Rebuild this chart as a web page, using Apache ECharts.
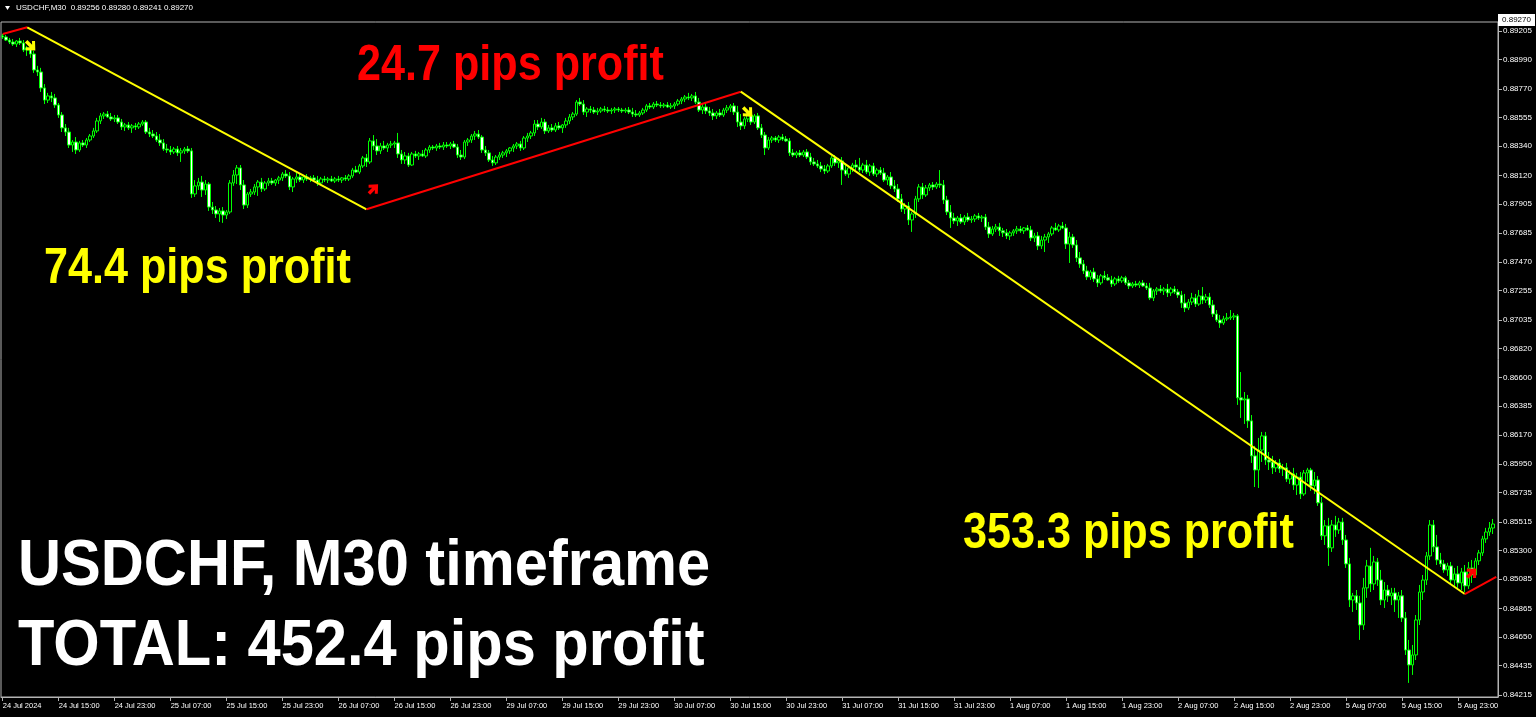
<!DOCTYPE html>
<html>
<head>
<meta charset="utf-8">
<script src="https://cdn.jsdelivr.net/npm/echarts@6/dist/echarts.min.js"></script>
<style>
html,body{margin:0;padding:0;background:#000;}
#c{width:1536px;height:717px;}
</style>
</head>
<body>
<div id="c"></div>
<script>
// ---------------- DATA (prices in points: 1 point = 0.00001) ----------------
const symbolName = 'USDCHF,M30';
const headerQuote = [0.89256, 0.89280, 0.89241, 0.89270];
const lastPrice = 0.89270;

const xTickLabels = ['24 Jul 2024','24 Jul 15:00','24 Jul 23:00','25 Jul 07:00','25 Jul 15:00','25 Jul 23:00','26 Jul 07:00','26 Jul 15:00','26 Jul 23:00','29 Jul 07:00','29 Jul 15:00','29 Jul 23:00','30 Jul 07:00','30 Jul 15:00','30 Jul 23:00','31 Jul 07:00','31 Jul 15:00','31 Jul 23:00','1 Aug 07:00','1 Aug 15:00','1 Aug 23:00','2 Aug 07:00','2 Aug 15:00','2 Aug 23:00','5 Aug 07:00','5 Aug 15:00','5 Aug 23:00'];
const barsPerTick = 16;

const yTickValues = [0.89205,0.88990,0.88770,0.88555,0.88340,0.88120,0.87905,0.87685,0.87470,0.87255,0.87035,0.86820,0.86600,0.86385,0.86170,0.85950,0.85735,0.85515,0.85300,0.85085,0.84865,0.84650,0.84435,0.84215];
const priceAxisRange = [0.84200, 0.892727];

const opens = [
89168,89160,89137,89122,89107,89130,89115,89062,89078,89032,88912,88897,88777,88686,88717,88702,
88649,88574,88477,88446,88348,88371,88311,88364,88348,88386,88416,88454,88529,88567,88581,88559,
88544,88552,88521,88484,88499,88477,88492,88484,88506,88521,88446,88431,88416,88386,88364,88318,
88311,88296,88318,88289,88304,88318,88304,87980,88041,88070,88010,88055,87882,87860,87830,87853,
87822,87845,88063,88123,88176,88048,87897,87980,87995,88033,88070,88018,88063,88078,88063,88085,
88101,88130,88116,88033,88093,88108,88085,88108,88093,88101,88085,88063,88093,88085,88093,88078,
88093,88085,88101,88093,88116,88160,88145,88191,88251,88221,88379,88341,88304,88341,88326,88348,
88356,88364,88281,88236,88266,88198,88281,88266,88281,88266,88311,88333,88326,88341,88333,88348,
88341,88356,88333,88273,88258,88371,88386,88416,88431,88408,88311,88289,88236,88214,88258,88273,
88289,88304,88326,88341,88356,88326,88401,88416,88439,88506,88484,88521,88454,88477,88461,88492,
88477,88499,88529,88559,88581,88671,88656,88596,88619,88611,88596,88604,88619,88611,88604,88611,
88619,88611,88604,88611,88596,88581,88574,88589,88611,88642,88634,88656,88649,88642,88649,88634,
88642,88656,88679,88694,88709,88702,88717,88671,88611,88634,88604,88589,88567,88589,88574,88611,
88627,88642,88596,88521,88492,88544,88574,88521,88567,88477,88423,88326,88386,88401,88386,88408,
88393,88379,88289,88273,88289,88273,88296,88258,88221,88206,88191,88168,88153,88191,88251,88214,
88229,88160,88130,88176,88198,88183,88160,88198,88145,88191,88130,88160,88138,88085,88108,88041,
88018,87943,87867,87890,87785,87830,87943,88033,87973,88026,88048,88033,88055,88048,87935,87845,
87800,87778,87800,87770,87807,87785,87792,87815,87800,87807,87732,87680,87717,87732,87703,87688,
87665,87688,87703,87717,87703,87725,87710,87650,87665,87590,87634,87657,87680,87725,87710,87740,
87725,87604,87657,87597,87500,87454,87402,87357,87394,87342,87312,87365,87350,87334,87304,87342,
87327,87350,87312,87289,87304,87296,87312,87289,87274,87199,87252,87266,87252,87266,87237,87266,
87244,87221,87161,87124,87168,87199,87153,87214,87183,87206,87146,87078,87033,87011,87041,87049,
87056,87064,86448,86432,86440,86275,86012,85906,86056,86162,85981,85966,85922,85959,85914,85922,
85838,85876,85793,85853,85726,85884,85906,85786,85831,85659,85411,85486,85321,85493,85455,85515,
85380,85200,84929,84960,84907,84741,85020,85185,85050,85215,85079,84929,85004,84960,84982,84929,
84960,84794,84553,84441,84516,84779,84989,85079,85260,85493,85328,85230,85200,85155,85185,85079,
85125,85057,85140,85035,85170,85117,85223,85283,85388,85440,85470
];
const highs = [
89183,89175,89153,89145,89137,89153,89137,89093,89100,89055,88943,88928,88806,88740,88747,88732,
88664,88596,88506,88477,88386,88408,88379,88386,88401,88431,88477,88552,88589,88596,88604,88589,
88574,88574,88544,88514,88521,88506,88514,88521,88536,88536,88477,88461,88446,88431,88393,88356,
88341,88333,88341,88326,88333,88341,88326,88085,88101,88116,88085,88070,87920,87890,87875,87882,
87860,88085,88160,88198,88198,88085,87995,88018,88055,88085,88101,88078,88101,88101,88093,88116,
88145,88160,88145,88108,88138,88130,88123,88130,88116,88123,88116,88108,88116,88108,88116,88108,
88116,88108,88123,88130,88176,88191,88206,88266,88281,88401,88423,88393,88364,88379,88364,88379,
88379,88439,88311,88296,88289,88296,88304,88296,88311,88326,88348,88348,88356,88364,88371,88371,
88371,88379,88356,88311,88386,88401,88431,88454,88461,88423,88341,88311,88266,88273,88296,88304,
88318,88333,88356,88371,88379,88416,88439,88454,88536,88536,88552,88544,88499,88506,88514,88521,
88506,88552,88581,88596,88686,88702,88686,88634,88642,88634,88627,88634,88642,88634,88627,88634,
88634,88627,88627,88634,88627,88611,88604,88627,88656,88664,88671,88679,88671,88664,88671,88664,
88671,88694,88709,88724,88740,88732,88747,88702,88656,88664,88634,88619,88604,88619,88627,88649,
88656,88664,88642,88581,88559,88589,88596,88581,88589,88506,88446,88408,88416,88416,88423,88431,
88416,88401,88318,88304,88311,88311,88318,88289,88251,88236,88221,88198,88206,88266,88273,88251,
88258,88206,88191,88214,88236,88251,88214,88236,88206,88214,88176,88183,88176,88123,88145,88085,
88055,87980,87913,87920,87845,87966,88055,88063,88048,88063,88070,88070,88160,88085,87966,87897,
87838,87815,87830,87822,87838,87815,87830,87838,87822,87830,87770,87740,87755,87763,87725,87717,
87703,87717,87740,87740,87732,87747,87740,87688,87695,87665,87680,87695,87740,87763,87755,87770,
87755,87695,87680,87634,87544,87484,87440,87409,87425,87372,87379,87402,87379,87365,87357,87365,
87365,87365,87334,87319,87327,87327,87334,87312,87312,87266,87281,87296,87281,87304,87281,87289,
87266,87252,87229,87191,87237,87229,87259,87281,87229,87237,87183,87108,87071,87064,87086,87108,
87086,87078,86642,86492,86470,86319,86087,86147,86192,86192,86041,86012,85981,85989,85951,85959,
85906,85922,85884,85891,85906,85922,85922,85891,85861,85703,85530,85546,85530,85561,85546,85546,
85418,85245,84982,85004,84960,85095,85230,85321,85260,85245,85155,85064,85042,85020,85020,84989,
85004,84839,84629,84591,84816,85042,85117,85290,85530,85530,85418,85283,85230,85208,85215,85170,
85185,85170,85192,85215,85230,85245,85305,85411,85471,85515,85538
];
const lows = [
89145,89130,89107,89093,89085,89100,89047,89018,89003,88890,88867,88747,88656,88664,88671,88627,
88552,88446,88416,88326,88296,88281,88296,88333,88326,88371,88401,88439,88506,88544,88552,88529,
88521,88506,88461,88454,88461,88439,88461,88469,88492,88431,88408,88401,88371,88341,88304,88289,
88273,88281,88266,88221,88281,88289,87951,87958,88010,87958,87973,87853,87830,87800,87770,87763,
87792,87830,88041,88055,88010,87867,87875,87958,87973,87966,87995,88003,88041,88048,88041,88055,
88078,88101,88010,87995,88063,88070,88063,88078,88070,88078,88041,88048,88070,88063,88070,88063,
88070,88063,88078,88078,88101,88138,88130,88176,88183,88206,88311,88273,88281,88311,88296,88326,
88326,88251,88206,88206,88183,88191,88251,88236,88258,88251,88289,88311,88304,88318,88311,88326,
88318,88326,88251,88236,88243,88341,88364,88386,88393,88289,88266,88221,88191,88198,88236,88251,
88258,88281,88296,88318,88304,88311,88371,88393,88416,88461,88469,88431,88439,88446,88446,88461,
88439,88477,88506,88536,88567,88642,88574,88559,88589,88581,88574,88589,88596,88589,88581,88589,
88596,88589,88589,88581,88559,88559,88559,88574,88596,88619,88619,88634,88627,88627,88627,88619,
88619,88642,88656,88671,88686,88679,88656,88596,88581,88581,88567,88536,88544,88559,88559,88589,
88596,88574,88484,88461,88469,88521,88499,88506,88461,88401,88273,88311,88364,88371,88364,88379,
88371,88266,88258,88251,88258,88258,88243,88198,88191,88176,88145,88130,88138,88176,88191,88176,
88048,88116,88101,88145,88160,88145,88138,88130,88116,88116,88108,88123,88070,88048,88018,87995,
87920,87845,87830,87747,87695,87800,87920,87943,87958,88003,88010,88018,88026,87905,87822,87725,
87755,87740,87755,87747,87770,87763,87770,87785,87770,87710,87650,87665,87695,87665,87657,87642,
87634,87665,87680,87688,87680,87703,87627,87619,87559,87567,87544,87612,87665,87703,87695,87717,
87567,87462,87575,87469,87425,87379,87334,87334,87319,87281,87296,87334,87327,87281,87289,87312,
87312,87296,87266,87274,87281,87274,87281,87259,87183,87176,87221,87237,87221,87206,87214,87229,
87199,87124,87093,87108,87146,87131,87139,87153,87161,87124,87056,87018,86974,86996,87026,87033,
87033,86395,86297,86252,86222,85959,85778,85771,85966,85944,85906,85876,85891,85884,85861,85816,
85801,85756,85718,85688,85711,85816,85749,85726,85636,85380,85343,85185,85290,85403,85426,85343,
85170,84876,84839,84854,84629,84704,84945,84989,85004,85035,84891,84869,84914,84891,84839,84794,
84764,84516,84306,84366,84478,84741,84929,85042,85230,85290,85192,85177,85133,85110,85042,85035,
85020,85004,84989,85012,85057,85133,85192,85260,85358,85411,85425
];
const closes = [
89160,89137,89122,89107,89130,89115,89062,89078,89032,88912,88897,88777,88686,88717,88702,88649,
88574,88477,88446,88348,88371,88311,88364,88348,88386,88416,88454,88529,88567,88581,88559,88544,
88552,88521,88484,88499,88477,88492,88484,88506,88521,88446,88431,88416,88386,88364,88318,88311,
88296,88318,88289,88304,88318,88304,87980,88041,88070,88010,88055,87882,87860,87830,87853,87822,
87845,88063,88123,88176,88048,87897,87980,87995,88033,88070,88018,88063,88078,88063,88085,88101,
88130,88116,88033,88093,88108,88085,88108,88093,88101,88085,88063,88093,88085,88093,88078,88093,
88085,88101,88093,88116,88160,88145,88191,88251,88221,88379,88341,88304,88341,88326,88348,88356,
88364,88281,88236,88266,88198,88281,88266,88281,88266,88311,88333,88326,88341,88333,88348,88341,
88356,88333,88273,88258,88371,88386,88416,88431,88408,88311,88289,88236,88214,88258,88273,88289,
88304,88326,88341,88356,88326,88401,88416,88439,88506,88484,88521,88454,88477,88461,88492,88477,
88499,88529,88559,88581,88671,88656,88596,88619,88611,88596,88604,88619,88611,88604,88611,88619,
88611,88604,88611,88596,88581,88574,88589,88611,88642,88634,88656,88649,88642,88649,88634,88642,
88656,88679,88694,88709,88702,88717,88671,88611,88634,88604,88589,88567,88589,88574,88611,88627,
88642,88596,88521,88492,88544,88574,88521,88567,88477,88423,88326,88386,88401,88386,88408,88393,
88379,88289,88273,88289,88273,88296,88258,88221,88206,88191,88168,88153,88191,88251,88214,88229,
88160,88130,88176,88198,88183,88160,88198,88145,88191,88130,88160,88138,88085,88108,88041,88018,
87943,87867,87890,87785,87830,87943,88033,87973,88026,88048,88033,88055,88048,87935,87845,87800,
87778,87800,87770,87807,87785,87792,87815,87800,87807,87732,87680,87717,87732,87703,87688,87665,
87688,87703,87717,87703,87725,87710,87650,87665,87590,87634,87657,87680,87725,87710,87740,87725,
87604,87657,87597,87500,87454,87402,87357,87394,87342,87312,87365,87350,87334,87304,87342,87327,
87350,87312,87289,87304,87296,87312,87289,87274,87199,87252,87266,87252,87266,87237,87266,87244,
87221,87161,87124,87168,87199,87153,87214,87183,87206,87146,87078,87033,87011,87041,87049,87056,
87064,86448,86432,86440,86275,86012,85906,86056,86162,85981,85966,85922,85959,85914,85922,85838,
85876,85793,85853,85726,85884,85906,85786,85831,85659,85411,85486,85321,85493,85455,85515,85380,
85200,84929,84960,84907,84741,85020,85185,85050,85215,85079,84929,85004,84960,84982,84929,84960,
84794,84553,84441,84516,84779,84989,85079,85260,85493,85328,85230,85200,85155,85185,85079,85125,
85057,85140,85035,85170,85117,85223,85283,85388,85440,85470,85500
];

// trade legs (zigzag of trades): bar index and price in points
const legBars   = [0, 7, 104, 211, 418, 427];
const legPrices = [89182, 89233, 87865, 88749, 84974, 85102];
const legSides  = ['buy', 'sell', 'buy', 'sell', 'buy'];

// entry arrows
const arrowBars   = [8, 106, 213, 420];
const arrowPrices = [89093, 88018, 88596, 85132];
const arrowSides  = ['sell', 'buy', 'sell', 'buy'];

const profitTexts  = ['74.4 pips profit', '24.7 pips profit', '353.3 pips profit'];
const profitSides  = ['sell', 'buy', 'sell'];
const summaryLines = ['USDCHF, M30 timeframe', 'TOTAL: 452.4 pips profit'];

// ---------------- CHART ----------------
const PT = 100000;
const sideColor = { buy: '#ff0000', sell: '#ffff00' };
const slotCount = legBars[legBars.length - 1] + 1;
const categories = Array.from({ length: slotCount }, (_, i) => String(i));
const candleData = opens.map((o, i) => [o / PT, closes[i] / PT, lows[i] / PT, highs[i] / PT]);

const FONT = '"Liberation Sans", Arial, sans-serif';
const AXIS = '#b4b4b4';

const legSeries = legSides.map((side, k) => ({
  type: 'line',
  data: [[legBars[k], legPrices[k] / PT], [legBars[k + 1], legPrices[k + 1] / PT]],
  symbol: 'none',
  silent: true,
  z: 5,
  lineStyle: { color: sideColor[side], width: 2 },
  animation: false
}));

const ARROW = 'path://M0,6L11,6L11,10L0,10Z M7,0.5L15,8L7,15.5L4.5,13L10,8L4.5,3Z';
const arrowSeries = ['sell', 'buy'].map(side => ({
  type: 'scatter',
  data: arrowBars.map((b, i) => arrowSides[i] === side ? [b, arrowPrices[i] / PT] : null).filter(Boolean),
  symbol: ARROW,
  symbolSize: 13,
  symbolKeepAspect: true,
  symbolRotate: side === 'sell' ? -45 : 45,
  itemStyle: { color: sideColor[side], opacity: 1 },
  silent: true,
  z: 6,
  animation: false
}));

const profitPos = [[44, 269.5], [357, 66.5], [963, 534.5]];
const graphics = [
  { type: 'polygon', shape: { points: [[5, 6], [10, 6], [7.5, 10]] }, style: { fill: '#ffffff' }, silent: true },
  { type: 'text', x: 16, y: 8, silent: true,
    style: { text: symbolName + '  ' + headerQuote.map(v => v.toFixed(5)).join(' '), fill: '#ffffff', font: '8px ' + FONT, verticalAlign: 'middle', align: 'left' } },
  { type: 'rect', shape: { x: 1498, y: 14, width: 37, height: 12 }, style: { fill: '#ffffff' }, silent: true, z: 10 },
  { type: 'text', x: 1516.5, y: 20, z: 11, silent: true,
    style: { text: lastPrice.toFixed(5), fill: '#000000', font: '8px ' + FONT, align: 'center', verticalAlign: 'middle' } }
];
profitTexts.forEach((t, i) => graphics.push({
  type: 'text', x: profitPos[i][0], y: profitPos[i][1], scaleX: 0.863, silent: true, z: 20,
  style: { text: t, fill: sideColor[profitSides[i]], font: 'bold 50px ' + FONT, align: 'left', verticalAlign: 'middle' }
}));
const summaryPos = [[18, 567.5], [18, 647.5]];
summaryLines.forEach((t, i) => graphics.push({
  type: 'text', x: summaryPos[i][0], y: summaryPos[i][1], scaleX: 0.917, silent: true, z: 20,
  style: { text: t, fill: '#ffffff', font: 'bold 65px ' + FONT, align: 'left', verticalAlign: 'middle' }
}));

const option = {
  backgroundColor: '#000000',
  animation: false,
  grid: { left: 1, top: 22, width: 1497, height: 675, show: true, borderColor: AXIS, borderWidth: 1,
          backgroundColor: 'transparent', containLabel: false, outerBoundsMode: 'none' },
  xAxis: {
    type: 'category', data: categories, boundaryGap: true,
    axisLine: { show: true, lineStyle: { color: AXIS, width: 1 } },
    axisTick: { show: true, interval: barsPerTick - 1, alignWithLabel: true, length: 4, lineStyle: { color: AXIS } },
    axisLabel: { show: true, interval: barsPerTick - 1, align: 'left', margin: 5, color: '#ffffff',
                 fontSize: 7.5, fontFamily: FONT, hideOverlap: false,
                 formatter: v => { const k = Number(v) / barsPerTick; return Number.isInteger(k) && xTickLabels[k] ? xTickLabels[k] : ''; } },
    splitLine: { show: false }
  },
  yAxis: {
    type: 'value', position: 'right', min: priceAxisRange[0], max: priceAxisRange[1],
    axisLine: { show: true, lineStyle: { color: AXIS } },
    axisTick: { show: true, length: 4, customValues: yTickValues, lineStyle: { color: AXIS } },
    axisLabel: { show: true, customValues: yTickValues, margin: 5, color: '#ffffff', fontSize: 8, fontFamily: FONT,
                 formatter: v => Number(v).toFixed(5) },
    splitLine: { show: false }
  },
  series: [
    {
      type: 'candlestick', data: candleData, barWidth: 3, large: false, silent: true, z: 2,
      itemStyle: { color: '#000000', color0: '#ffffff', borderColor: '#00ff00', borderColor0: '#00ff00', borderWidth: 1 }
    },
    ...legSeries,
    ...arrowSeries
  ],
  graphic: graphics
};

const chart = echarts.init(document.getElementById('c'), null, { renderer: 'canvas' });
chart.setOption(option);
</script>
</body>
</html>
